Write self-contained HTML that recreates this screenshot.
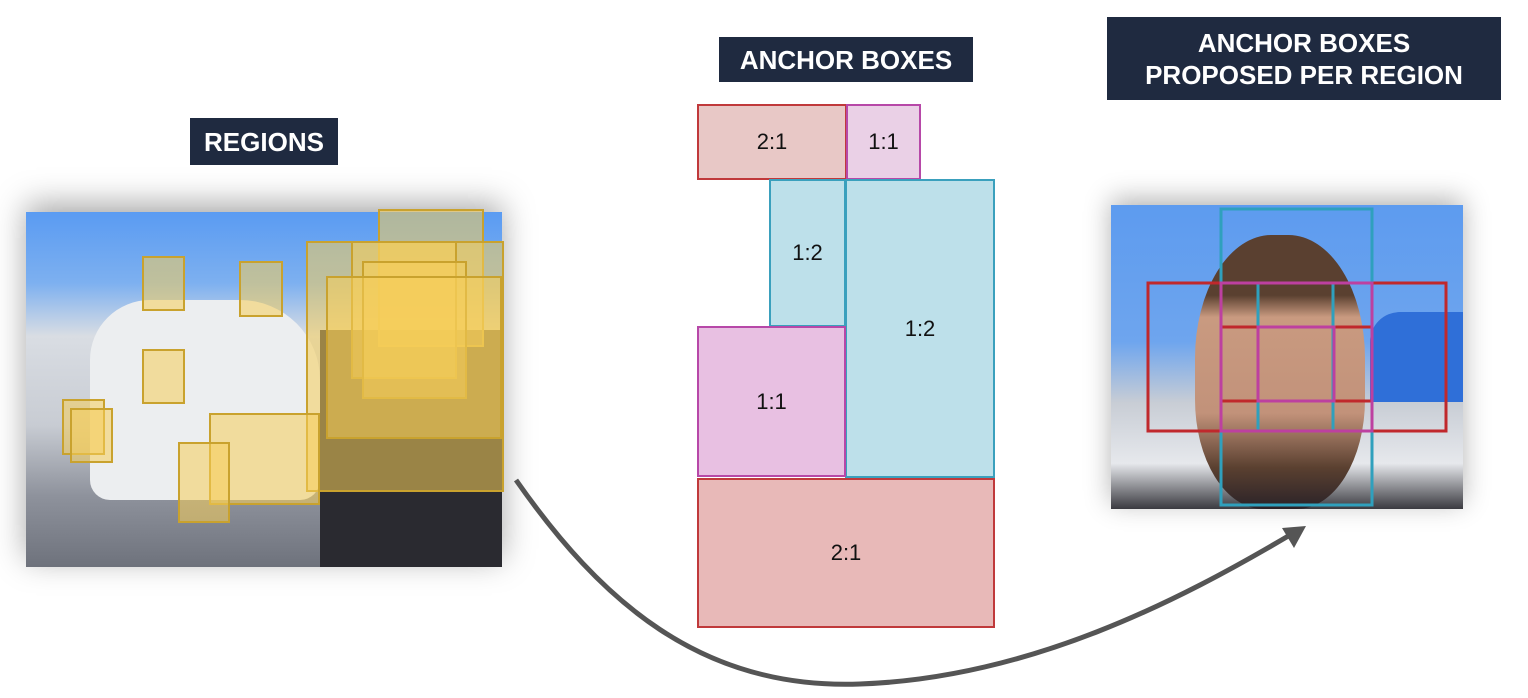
<!DOCTYPE html>
<html><head><meta charset="utf-8"><style>
body{margin:0;width:1528px;height:698px;background:#fff;position:relative;overflow:hidden;font-family:"Liberation Sans",sans-serif}
.lab{position:absolute;background:#1f2a40;color:#fff;font-weight:bold;font-size:26px;text-align:center;display:flex;align-items:center;justify-content:center;line-height:32px}
.b{position:absolute;box-sizing:border-box}
.y{border:2px solid #c9a22e;background:rgba(245,205,90,0.55)}
.a{position:absolute;box-sizing:border-box;border:2px solid;display:flex;align-items:center;justify-content:center;font-size:22px;color:#111}
</style></head><body>
<div class="lab" style="left:190px;top:118px;width:148px;height:47px">REGIONS</div>
<div class="lab" style="left:719px;top:37px;width:254px;height:45px">ANCHOR BOXES</div>
<div class="lab" style="left:1107px;top:17px;width:394px;height:83px">ANCHOR BOXES<br>PROPOSED PER REGION</div>

<!-- left photo -->
<div class="b" style="left:26px;top:212px;width:476px;height:355px;box-shadow:0 -8px 30px rgba(0,0,0,0.35);background:linear-gradient(180deg,#5a9bf2 0%,#7db0f0 20%,#d9dde3 35%,#c8ccd3 60%,#8e929c 80%,#6e727c 100%)"></div>
<div class="b" style="left:90px;top:300px;width:230px;height:200px;background:#eceef0;border-radius:60px 80px 20px 20px"></div>
<div class="b" style="left:320px;top:330px;width:182px;height:237px;background:#2a2a30"></div>
<div class="b y" style="left:378px;top:209px;width:106px;height:138px"></div>
<div class="b y" style="left:306px;top:241px;width:198px;height:251px"></div>
<div class="b y" style="left:351px;top:241px;width:106px;height:138px"></div>
<div class="b y" style="left:362px;top:261px;width:105px;height:138px"></div>
<div class="b y" style="left:326px;top:276px;width:176px;height:163px"></div>
<div class="b y" style="left:142px;top:256px;width:43px;height:55px"></div>
<div class="b y" style="left:239px;top:261px;width:44px;height:56px"></div>
<div class="b y" style="left:142px;top:349px;width:43px;height:55px"></div>
<div class="b y" style="left:62px;top:399px;width:43px;height:56px"></div>
<div class="b y" style="left:70px;top:408px;width:43px;height:55px"></div>
<div class="b y" style="left:209px;top:413px;width:111px;height:92px"></div>
<div class="b y" style="left:178px;top:442px;width:52px;height:81px"></div>

<!-- anchors -->
<div class="a" style="left:697px;top:104px;width:150px;height:76px;border-color:#c0393b;background:#e8c8c6">2:1</div>
<div class="a" style="left:846px;top:104px;width:75px;height:76px;border-color:#b748a8;background:#ead0e6">1:1</div>
<div class="a" style="left:769px;top:179px;width:77px;height:148px;border-color:#3aa0bd;background:#bde0ea">1:2</div>
<div class="a" style="left:845px;top:179px;width:150px;height:299px;border-color:#3aa0bd;background:#bde0ea">1:2</div>
<div class="a" style="left:697px;top:326px;width:149px;height:151px;border-color:#b748a8;background:#e8c0e2">1:1</div>
<div class="a" style="left:697px;top:478px;width:298px;height:150px;border-color:#c0393b;background:#e8b9b8">2:1</div>

<!-- right photo -->
<div class="b" style="left:1111px;top:205px;width:352px;height:304px;box-shadow:0 -6px 25px rgba(0,0,0,0.3);background:linear-gradient(180deg,#5d9bef 0%,#6ea5ee 45%,#c8cdd5 65%,#e6e8ec 85%,#3a3a40 100%)"></div>
<div class="b" style="left:1195px;top:235px;width:170px;height:274px;border-radius:45% 45% 40% 40%;background:linear-gradient(180deg,#5a4030 0%,#5a4030 22%,#c99a80 30%,#c2927a 65%,#5a4030 85%,#2a2228 100%)"></div>
<div class="b" style="left:1370px;top:312px;width:93px;height:90px;background:#2f6fd8;border-radius:30px 0 0 0"></div>
<svg style="position:absolute;left:0;top:0" width="1528" height="698">
<g fill="none" stroke-width="3">
<rect x="1221" y="209" width="151" height="296" stroke="#2fa0bd"/>
<rect x="1148" y="283" width="298" height="148" stroke="#c0282c"/>
<line x1="1258" y1="283" x2="1258" y2="431" stroke="#2fa0bd"/>
<line x1="1333" y1="283" x2="1333" y2="431" stroke="#2fa0bd"/>
<line x1="1221" y1="327" x2="1372" y2="327" stroke="#c0282c"/>
<line x1="1221" y1="401" x2="1372" y2="401" stroke="#c0282c"/>
<rect x="1221" y="283" width="151" height="148" stroke="#bd40a0"/>
<rect x="1258" y="327" width="76" height="74" stroke="#bd40a0"/>
</g>
<path d="M516 480 C 600 600, 700 690, 860 684 C 1030 678, 1180 600, 1290 535" fill="none" stroke="#555" stroke-width="5"/>
<polygon points="1306,526 1282,528 1294,548" fill="#555"/>
</svg>
</body></html>
